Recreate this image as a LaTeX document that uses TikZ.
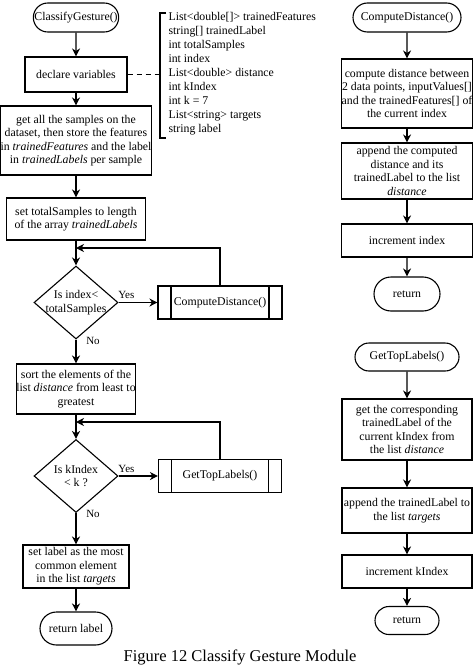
\documentclass[tikz,border=0pt]{standalone}
\usepackage{fontspec}
\setmainfont{Liberation Serif}
\usetikzlibrary{arrows.meta,shapes.geometric,shapes.misc}

\begin{document}
\begin{tikzpicture}[x=1pt,y=-1pt,line width=1.1pt,
    >={Stealth[length=8pt,width=8pt,inset=2.5pt]},
    every node/.style={font=\fontsize{11.8}{13.4}\selectfont},
    proc/.style={draw,rectangle,align=center,inner sep=0pt},
    term/.style={draw,rounded rectangle,inner sep=0pt},
    decide/.style={draw,diamond,inner sep=0pt,minimum width=84pt,minimum height=73pt},
    subproc/.style={proc,path picture={
        \draw ([xshift=13pt]path picture bounding box.north west) -- ([xshift=13pt]path picture bounding box.south west);
        \draw ([xshift=-13pt]path picture bounding box.north east) -- ([xshift=-13pt]path picture bounding box.south east);}},
    lbl/.style={font=\fontsize{11}{12}\selectfont}]
  \fill[white] (0,0) rectangle (474,666);
  \useasboundingbox (0,0) rectangle (474,666);

  % ClassifyGesture
  \node[term,minimum width=84pt,minimum height=29pt] (cg) at (76,17.5) {ClassifyGesture()};
  \node[proc,minimum width=102pt,minimum height=35pt] (dv) at (76,74.5) {declare variables};
  \node[proc,minimum width=146pt,minimum height=69pt] (gs) at (76,140.5)
    {get all the samples on the\\dataset, then store the features\\in \textit{trainedFeatures} and the label\\in \textit{trainedLabels} per sample};
  \node[proc,minimum width=139pt,minimum height=42pt] (ts) at (76,219)
    {set totalSamples to length\\of the array \textit{trainedLabels}};
  \node[decide,label={[align=center]center:{Is index<\\totalSamples}}] (d1) at (76,302.5) {};
  \node[subproc,minimum width=124pt,minimum height=33pt] (cd) at (220,302.5) {ComputeDistance()};
  \node[proc,minimum width=118pt,minimum height=50pt] (sd) at (76,389)
    {sort the elements of the\\list \textit{distance} from least to\\greatest};
  \node[decide,label={[align=center]center:{Is kIndex\\< k ?}}] (d2) at (76,476) {};
  \node[subproc,minimum width=123pt,minimum height=33pt] (gt) at (220,476) {GetTopLabels()};
  \node[proc,minimum width=106pt,minimum height=43pt] (sl) at (76,566.5)
    {set label as the most\\common element\\in the list \textit{targets}};
  \node[term,minimum width=72pt,minimum height=33pt] (rl) at (76,628.5) {return label};
  \node[lbl] (no1) at (93,341) {No};
  \node[lbl] (no2) at (93,514) {No};
  \coordinate (j1) at (76,248);
  \coordinate (j2) at (76,422);

  % variable list
  \node[anchor=west,align=left,inner sep=0pt,font=\fontsize{11.8}{14}\selectfont] (vars) at (168,74)
    {List<double[]> trainedFeatures\\string[] trainedLabel\\int totalSamples\\int index\\List<double> distance\\int kIndex\\int k = 7\\List<string> targets\\string label};
  \coordinate (br) at (160,74.5);
  \draw (166,13) -- (160,13) -- (160,138) -- (166,138);
  \draw[dash pattern=on 5pt off 4pt] (dv.east) -- (br);

  \draw[->] (cg) -- (dv);
  \draw[->] (dv) -- (gs);
  \draw[->] (gs) -- (ts);
  \draw[->] (ts) -- (d1);
  \draw[->] (d1) -- node[lbl,pos=0.2,above]{Yes} (cd);
  \draw[->] (cd.north) |- (j1);
  \draw[->] (d1) -- (sd);
  \draw[->] (sd) -- (d2);
  \draw[->] (d2) -- node[lbl,pos=0.2,above]{Yes} (gt);
  \draw[->] (gt.north) |- (j2);
  \draw[->] (d2) -- (sl);
  \draw[->] (sl) -- (rl);

  % ComputeDistance
  \node[term,minimum width=108pt,minimum height=29pt] (cdh) at (407,17.5) {ComputeDistance()};
  \node[proc,minimum width=131pt,minimum height=69pt] (c1) at (407,93.5)
    {compute distance between\\2 data points, inputValues[]\\and the trainedFeatures[] of\\the current index};
  \node[proc,minimum width=131pt,minimum height=56pt] (c2) at (407,171)
    {append the computed\\distance and its\\trainedLabel to the list\\\textit{distance}};
  \node[proc,minimum width=131pt,minimum height=33pt] (c3) at (407,240.5) {increment index};
  \node[term,minimum width=66pt,minimum height=34pt] (c4) at (407,294) {return};
  \draw[->] (cdh) -- (c1);
  \draw[->] (c1) -- (c2);
  \draw[->] (c2) -- (c3);
  \draw[->] (c3) -- (c4);

  % GetTopLabels
  \node[term,minimum width=104pt,minimum height=28pt] (gth) at (407,357) {GetTopLabels()};
  \node[proc,minimum width=130pt,minimum height=61pt] (g1) at (407,429.5)
    {get the corresponding\\trainedLabel of the\\current kIndex from\\the list \textit{distance}};
  \node[proc,minimum width=130pt,minimum height=45pt] (g2) at (407,510.5)
    {append the trainedLabel to\\the list \textit{targets}};
  \node[proc,minimum width=130pt,minimum height=33pt] (g3) at (407,571.5) {increment kIndex};
  \node[term,minimum width=64pt,minimum height=28pt] (g4) at (407,620.5) {return};
  \draw[->] (gth) -- (g1);
  \draw[->] (g1) -- (g2);
  \draw[->] (g2) -- (g3);
  \draw[->] (g3) -- (g4);

  \node[font=\fontsize{16.5}{18}\selectfont] (cap) at (240,657) {Figure 12 Classify Gesture Module};
\end{tikzpicture}
\end{document}
